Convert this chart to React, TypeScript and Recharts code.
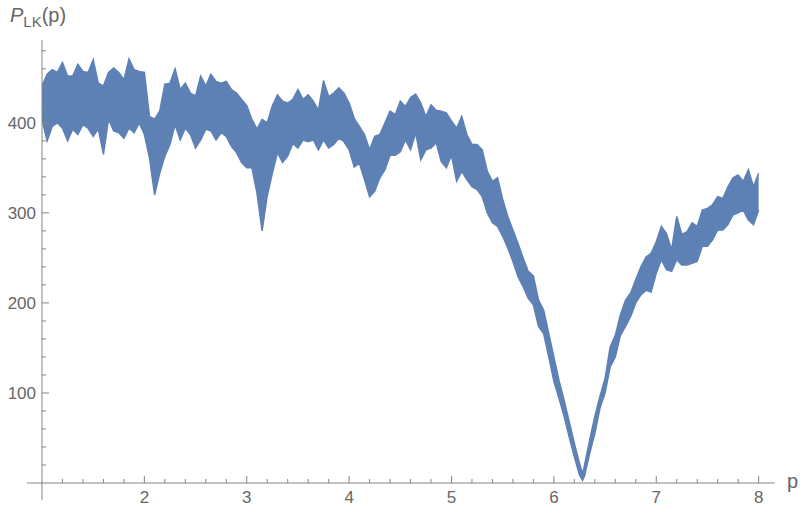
import { Area, ComposedChart, ReferenceLine, XAxis, YAxis } from "recharts";

// p values (sampled every 0.05, extra point at the minimum)
const P = [
  1.0, 1.05, 1.1, 1.15, 1.2, 1.25, 1.3, 1.35, 1.4, 1.45, 1.5, 1.55, 1.6, 1.65, 1.7, 1.75, 1.8, 1.85, 1.9, 1.95,
  2.0, 2.05, 2.1, 2.15, 2.2, 2.25, 2.3, 2.35, 2.4, 2.45, 2.5, 2.55, 2.6, 2.65, 2.7, 2.75, 2.8, 2.85, 2.9, 2.95,
  3.0, 3.05, 3.1, 3.15, 3.2, 3.25, 3.3, 3.35, 3.4, 3.45, 3.5, 3.55, 3.6, 3.65, 3.7, 3.75, 3.8, 3.85, 3.9, 3.95,
  4.0, 4.05, 4.1, 4.15, 4.2, 4.25, 4.3, 4.35, 4.4, 4.45, 4.5, 4.55, 4.6, 4.65, 4.7, 4.75, 4.8, 4.85, 4.9, 4.95,
  5.0, 5.05, 5.1, 5.15, 5.2, 5.25, 5.3, 5.35, 5.4, 5.45, 5.5, 5.55, 5.6, 5.65, 5.7, 5.75, 5.8, 5.85, 5.9, 5.95,
  6.0, 6.05, 6.1, 6.15, 6.2, 6.25, 6.28, 6.3, 6.35, 6.4, 6.45, 6.5, 6.55, 6.6, 6.65, 6.7, 6.75, 6.8, 6.85, 6.9, 6.95,
  7.0, 7.05, 7.1, 7.15, 7.2, 7.25, 7.3, 7.35, 7.4, 7.45, 7.5, 7.55, 7.6, 7.65, 7.7, 7.75, 7.8, 7.85, 7.9, 7.95,
  8.0
];

// upper edge of the noisy P_LK(p) trace
const HI = [
  441, 454, 459, 456, 467, 452, 452, 465, 457, 456, 470, 444, 441, 456, 461, 456, 448, 471, 459, 457,
  456, 407, 404, 413, 443, 444, 460, 437, 444, 433, 430, 452, 441, 454, 446, 444, 446, 437, 433, 426,
  419, 404, 393, 404, 400, 419, 431, 424, 422, 426, 437, 426, 431, 424, 414, 447, 429, 433, 439, 433,
  422, 405, 396, 387, 370, 385, 387, 400, 413, 409, 424, 418, 428, 432, 422, 407, 420, 414, 413, 411,
  402, 394, 407, 387, 376, 376, 370, 346, 335, 339, 315, 296, 281, 266, 250, 235, 230, 203, 192, 166,
  140, 114, 92, 68, 44, 22, 10, 20, 48, 74, 96, 116, 151, 164, 187, 203, 211, 226, 240, 251, 255,
  268, 285, 277, 259, 296, 276, 279, 289, 285, 303, 305, 309, 318, 316, 329, 339, 342, 335, 348, 329,
  344
];

// lower edge of the noisy P_LK(p) trace
const LO = [
  404, 380, 396, 400, 394, 380, 393, 387, 398, 394, 385, 393, 365, 404, 391, 389, 383, 394, 389, 400,
  387, 361, 320, 344, 363, 376, 398, 381, 394, 387, 372, 381, 393, 391, 381, 389, 385, 374, 367, 356,
  350, 350, 322, 280, 319, 344, 367, 356, 363, 377, 372, 381, 379, 381, 370, 381, 372, 376, 383, 379,
  370, 351, 355, 337, 318, 324, 339, 348, 364, 364, 368, 381, 370, 389, 359, 370, 372, 378, 357, 350,
  364, 335, 346, 337, 329, 326, 318, 300, 289, 285, 274, 261, 246, 229, 218, 205, 198, 174, 166, 140,
  113, 94, 74, 51, 29, 9, 3, 8, 33, 55, 83, 100, 129, 140, 164, 174, 185, 200, 209, 214, 212,
  233, 248, 237, 235, 248, 242, 242, 244, 246, 263, 263, 270, 281, 281, 287, 298, 300, 303, 292, 287,
  303
];

const X_MAJOR = [2, 3, 4, 5, 6, 7, 8];
const X_MINOR = [
  1.2, 1.4, 1.6, 1.8, 2.2, 2.4, 2.6, 2.8, 3.2, 3.4, 3.6, 3.8, 4.2, 4.4, 4.6, 4.8,
  5.2, 5.4, 5.6, 5.8, 6.2, 6.4, 6.6, 6.8, 7.2, 7.4, 7.6, 7.8
];
const Y_MAJOR = [100, 200, 300, 400];
const Y_MINOR = [20, 40, 60, 80, 120, 140, 160, 180, 220, 240, 260, 280, 320, 340, 360, 380, 420, 440, 460, 480];

const data = P.map((p, i) => ({ p, range: [LO[i], HI[i]] }));

const BLUE = "#5E81B5";
const AXIS = "#858585";
const LABEL = "#666666";
const FONT = "'Liberation Sans', Arial, sans-serif";

function XTick(props: any) {
  const { x, y, payload } = props;
  const major = X_MAJOR.includes(payload.value);
  return (
    <g>
      <line x1={x} x2={x} y1={y} y2={y - (major ? 7 : 4)} stroke={AXIS} strokeWidth={1} />
      {major && (
        <text x={x} y={y + 20} textAnchor="middle" fill={LABEL} fontSize={17} fontFamily={FONT}>
          {payload.value}
        </text>
      )}
    </g>
  );
}

function YTick(props: any) {
  const { x, y, payload } = props;
  const major = Y_MAJOR.includes(payload.value);
  return (
    <g>
      <line x1={x} x2={x + (major ? 7 : 4)} y1={y} y2={y} stroke={AXIS} strokeWidth={1} />
      {major && (
        <text x={x - 6} y={y + 6} textAnchor="end" fill={LABEL} fontSize={17} fontFamily={FONT}>
          {payload.value}
        </text>
      )}
    </g>
  );
}

export default function App() {
  return (
    <div style={{ position: "absolute", left: 0, top: 0, width: 802, height: 518, background: "#fff" }}>
      <ComposedChart
        width={802}
        height={518}
        data={data}
        margin={{ top: 40, right: 27, bottom: 34, left: 41 }}
      >
        <XAxis
          type="number"
          dataKey="p"
          domain={[1, 8.16]}
          ticks={[...X_MINOR, ...X_MAJOR]}
          interval={0}
          tick={XTick}
          tickSize={0}
          tickMargin={0}
          axisLine={false}
          tickLine={false}
          height={1}
          allowDataOverflow
        />
        <YAxis
          type="number"
          domain={[0, 492]}
          ticks={[...Y_MINOR, ...Y_MAJOR]}
          interval={0}
          tick={YTick}
          tickSize={0}
          tickMargin={0}
          axisLine={false}
          tickLine={false}
          width={1}
          allowDataOverflow
        />
        <ReferenceLine
          segment={[{ x: 0.853, y: 0 }, { x: 8.157, y: 0 }]}
          ifOverflow="visible"
          stroke={AXIS}
          strokeWidth={1}
        />
        <ReferenceLine
          segment={[{ x: 1, y: -19 }, { x: 1, y: 492 }]}
          ifOverflow="visible"
          stroke={AXIS}
          strokeWidth={1}
        />
        <Area
          type="linear"
          dataKey="range"
          stroke={BLUE}
          strokeWidth={1.5}
          fill={BLUE}
          fillOpacity={1}
          isAnimationActive={false}
          dot={false}
          activeDot={false}
        />
      </ComposedChart>
      <div
        style={{
          position: "absolute",
          left: 10,
          top: 3,
          fontFamily: FONT,
          fontSize: 20,
          color: LABEL,
          lineHeight: "24px",
          whiteSpace: "nowrap"
        }}
      >
        <span style={{ fontStyle: "italic" }}>P</span>
        <span style={{ fontSize: 15, position: "relative", top: 5 }}>LK</span>
        <span>(p)</span>
      </div>
      <div
        style={{
          position: "absolute",
          left: 787,
          top: 469,
          fontFamily: FONT,
          fontSize: 20,
          color: LABEL,
          lineHeight: "24px"
        }}
      >
        p
      </div>
    </div>
  );
}
